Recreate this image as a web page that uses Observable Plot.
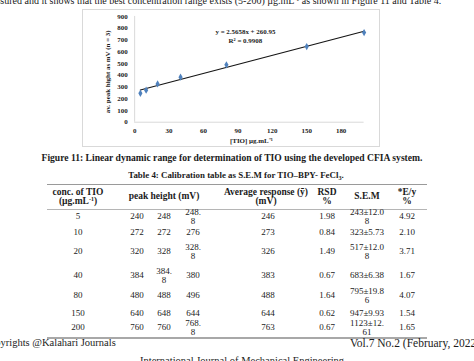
<!DOCTYPE html>
<html><head><meta charset="utf-8">
<script src="https://cdn.jsdelivr.net/npm/d3@7"></script>
<script src="https://cdn.jsdelivr.net/npm/@observablehq/plot@0.6"></script>
<style>
html,body{margin:0;padding:0;background:#fff;}
body{width:474px;height:361px;overflow:hidden;position:relative;font-family:"Liberation Serif","Times New Roman",serif;color:#1b1b1b;}
.abs{position:absolute;white-space:nowrap;}
#chart{position:absolute;left:82px;top:9px;width:298px;height:138px;box-sizing:border-box;border:1px solid #d9d9d9;}
#chart svg{position:absolute;left:-1px;top:-1px;display:block;}
.cell{position:absolute;display:flex;align-items:center;justify-content:center;text-align:center;}
.cell span{word-break:break-all;line-height:9px;}
.hd{font-weight:bold;font-size:9.5px;}
.dt{font-size:9px;}
.hline{position:absolute;left:47px;width:380px;}
sup{font-size:6px;vertical-align:3px;line-height:0;}
</style>
</head><body>
<div class="abs" style="left:-8px;top:-5px;font-size:10px;">assured and it shows that the best concentration range exists (5-200) µg.mL<sup>-1</sup> as shown in Figure 11 and Table 4.</div>
<div id="chart"></div>
<div class="abs" id="cap1" style="left:0;width:464px;text-align:center;top:152px;font-weight:bold;font-size:9.6px;">Figure 11: Linear dynamic range for determination of TIO using the developed CFIA system.</div>
<div class="abs" id="cap2" style="left:0;width:472px;text-align:center;top:169.5px;font-weight:bold;font-size:8.9px;">Table 4: Calibration table as S.E.M for TIO–BPY- FeCl<span style="font-size:6.2px;vertical-align:-2px;">3</span>.</div>
<div class="hline" style="top:183.5px;height:1.5px;background:#9a9a9a;"></div>
<div class="hline" style="top:208.5px;height:1px;background:#b5b5b5;"></div>
<div class="hline" style="top:337px;height:2px;background:#a8a8a8;"></div>
<div id="table"></div>
<div class="abs" style="left:-17px;top:337px;font-size:10.5px;">Copyrights @Kalahari Journals</div>
<div class="abs" style="left:350px;top:336.5px;font-size:11.5px;">Vol.7 No.2 (February, 2022)</div>
<div class="abs" style="left:140px;top:355px;font-size:10.5px;">International Journal of Mechanical Engineering</div>
<script>
// ---- data ----
const conc = [5, 10, 20, 40, 80, 150, 200];
const avgResponse = [246, 273, 326, 383, 488, 644, 763];
const slope = 2.5658, intercept = 260.95, r2 = 0.9908;
const xTicks = [0, 30, 60, 90, 120, 150, 180];
const yTicks = [0, 100, 200, 300, 400, 500, 600, 700, 800, 900];
const xLabel = "[TIO] µg.mL⁻¹";
const yLabel = "av. peak hight as mV (n = 3)";

const peak1 = ["240", "272", "320", "384", "480", "640", "760"];
const peak2 = ["248", "272", "328", "384.8", "488", "648", "760"];
const peak3 = ["248.8", "276", "328.8", "380", "496", "644", "768.8"];
const rsd = ["1.98", "0.84", "1.49", "0.67", "1.64", "0.62", "0.67"];
const sem = ["243±12.08", "323±5.73", "517±12.08", "683±6.38", "795±19.86", "947±9.93", "1123±12.61"];
const ey = ["4.92", "2.10", "3.71", "1.67", "4.07", "1.54", "1.65"];

// ---- chart ----
const points = conc.map((c, i) => ({x: c, y: avgResponse[i]}));
const trend = d3.extent(conc).map(x => ({x, y: slope * x + intercept}));
const eqText = `y = ${slope}x + ${intercept}\nR² = ${r2}`;

const plot = Plot.plot({
  width: 298, height: 138,
  marginLeft: 52.5, marginRight: 14.5, marginTop: 7, marginBottom: 24.5,
  style: {background: "transparent", fontFamily: '"Liberation Serif", serif', fontSize: "7px", fontWeight: "bold", color: "#1b1b1b", overflow: "visible"},
  x: {domain: [0, 200]},
  y: {domain: [0, 900]},
  marks: [
    Plot.ruleY([0], {stroke: "#d9d9d9"}),
    Plot.ruleX([0], {stroke: "#d9d9d9"}),
    Plot.axisX({ticks: xTicks, tickSize: 0, tickPadding: 6, label: null}),
    Plot.axisY({ticks: yTicks, tickSize: 0, tickPadding: 7, label: null}),
    Plot.line(trend, {x: "x", y: "y", stroke: "#151515", strokeWidth: 1.2}),
    Plot.dot(points, {x: "x", y: "y", symbol: "diamond", r: 2.2, fill: "#4f81bd"}),
    Plot.text([eqText], {frameAnchor: "top-left", textAnchor: "middle", lineAnchor: "top", lineHeight: 1.3, dx: 111.5, dy: 11.5}),
    Plot.text([xLabel], {frameAnchor: "bottom", textAnchor: "middle", lineAnchor: "middle", dx: 2, dy: 18.5}),
    Plot.text([yLabel], {frameAnchor: "left", textAnchor: "middle", lineAnchor: "middle", rotate: -90, dx: -27, dy: 2.5})
  ]
});
document.getElementById("chart").appendChild(plot);

// ---- table ----
const table = document.getElementById("table");
function cell(html, cx, cy, w, h, cls) {
  const d = document.createElement("div");
  d.className = "cell " + cls;
  d.style.left = (cx - w / 2) + "px";
  d.style.top = (cy - h / 2) + "px";
  d.style.width = w + "px";
  d.style.height = h + "px";
  const s = document.createElement("span");
  s.innerHTML = html;
  d.appendChild(s);
  table.appendChild(d);
}
const hy = 196.5;
cell("conc. of TIO<br>(µg.mL<sup>-1</sup>)", 78, hy, 70, 22, "hd");
cell("peak height (mV)", 164, hy, 90, 22, "hd");
cell("Average response (ȳ)<br>(mV)", 266, hy, 110, 22, "hd");
cell("RSD<br>%", 327, hy, 30, 22, "hd");
cell("S.E.M", 367, hy, 40, 22, "hd");
cell("*E/y<br>%", 407, hy, 30, 22, "hd");

const rowY = [216.5, 232, 251.5, 275.5, 295.5, 313, 327.5];
conc.forEach((c, i) => {
  const y = rowY[i];
  cell(String(c), 78, y, 30, 20, "dt");
  cell(peak1[i], 137, y, 17, 20, "dt");
  cell(peak2[i], 164, y, 17, 20, "dt");
  cell(peak3[i], 193, y, 17, 20, "dt");
  cell(String(avgResponse[i]), 268, y, 30, 20, "dt");
  cell(rsd[i], 327, y, 30, 20, "dt");
  cell(sem[i], 367, y, 36, 20, "dt");
  cell(ey[i], 407, y, 30, 20, "dt");
});
</script>
</body></html>
